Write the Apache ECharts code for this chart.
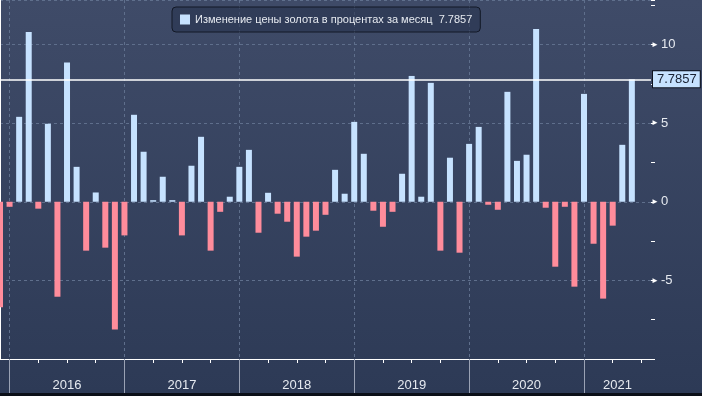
<!DOCTYPE html>
<html>
<head>
<meta charset="utf-8">
<script src="https://cdn.jsdelivr.net/npm/echarts@6/dist/echarts.min.js"></script>
<style>
  html, body { margin: 0; padding: 0; background: #0b0f18; }
  #chart { width: 702px; height: 393px; }
</style>
</head>
<body>
<div id="chart"></div>
<script>
// monthly gold price change, %, month-end bars from Nov 2015 to May 2021
const seriesName = 'Изменение цены золота в процентах за месяц'
const lastValue = 7.7857
const goldChange = [
  -6.71, -0.32,
  5.40, 10.80, -0.44, 4.96, -6.04, 8.85, 2.22, -3.11, 0.59, -2.92, -8.13, -2.14,
  5.53, 3.18, 0.10, 1.59, 0.10, -2.14, 2.29, 4.13, -3.11, -0.64, 0.32, 2.22,
  3.30, -1.97, 0.57, -0.76, -1.27, -3.49, -2.22, -1.84, -0.83, 2.03, 0.51, 5.08,
  3.05, -0.57, -1.59, -0.64, 1.78, 8.00, 0.32, 7.56, -3.11, 2.80, -3.24, 3.68,
  4.76, -0.19, -0.51, 6.99, 2.60, 2.99, 10.99, -0.38, -4.13, -0.32, -5.40, 6.86,
  -2.67, -6.16, -1.52, 3.62, 7.7857
]
const years = ['2016', '2017', '2018', '2019', '2020', '2021']
const yTickLabels = [10, 5, 0, -5]

// month categories Nov 2015 .. Jul 2021 (axis runs two months past the last bar)
const months = []
for (let y = 2015, m = 11; months.length < 69; m++) {
  if (m > 12) { m = 1; y++ }
  months.push(y + '-' + String(m).padStart(2, '0'))
}
const monthOf = (i) => Number(months[i].slice(5))

// year boundaries sit on the December bars, labels in the middle of each span
const yearBounds = months.map((_, i) => i).filter(i => monthOf(i) === 12)
const yearMid = yearBounds.map((b, k) => ((yearBounds[k + 1] ?? months.length - 1) + b) / 2)

const chart = echarts.init(document.getElementById('chart'))

chart.setOption({
  animation: false,
  backgroundColor: new echarts.graphic.LinearGradient(0, 0, 0, 1, [
    { offset: 0, color: '#3f4b68' },
    { offset: 1, color: '#2d3a56' }
  ]),
  textStyle: { fontFamily: 'Liberation Sans' },
  grid: { left: 0, right: 51, top: 0, bottom: 34 },
  legend: {
    left: 172,
    top: 7,
    data: [{ name: seriesName, itemStyle: { color: '#c6e2ff' } }],
    icon: 'rect',
    itemWidth: 10,
    itemHeight: 10,
    itemGap: 6,
    padding: [7, 8, 7, 8],
    backgroundColor: 'rgba(40,52,78,0.6)',
    borderColor: '#121826',
    borderWidth: 1,
    borderRadius: 4,
    formatter: (name) => name + '  ' + lastValue,
    textStyle: { color: '#e6eaf0', fontSize: 11 }
  },
  xAxis: [
    {
      type: 'category',
      data: months,
      boundaryGap: false,
      axisLine: { onZero: false, lineStyle: { color: '#ffffff', width: 1 } },
      axisTick: {
        interval: (i) => monthOf(i) % 3 === 0,
        length: 4,
        lineStyle: { color: '#ffffff' }
      },
      axisLabel: { show: false },
      splitLine: {
        show: true,
        interval: (i) => monthOf(i) === 12,
        lineStyle: { color: '#5f6f8c', type: [3, 3] }
      }
    },
    {
      type: 'value',
      min: 0,
      max: months.length - 1,
      position: 'bottom',
      axisLine: { show: false, onZero: false },
      axisTick: {
        show: true,
        customValues: yearBounds,
        length: 34,
        lineStyle: { color: '#9aa2b4' }
      },
      axisLabel: {
        customValues: yearMid,
        formatter: (v) => years[yearMid.indexOf(v)] ?? '',
        color: '#e6eaf0',
        fontSize: 13,
        margin: 20
      },
      splitLine: { show: false }
    }
  ],
  yAxis: [
    {
      type: 'value',
      position: 'right',
      min: -10,
      max: 12.83,
      interval: 5,
      axisLine: { show: true, lineStyle: { color: '#ffffff' } },
      axisTick: { show: false },
      axisLabel: {
        margin: 0,
        formatter: (v) => yTickLabels.includes(v) ? '{t|►}{v|' + v + '}' : '',
        rich: {
          t: { color: '#ffffff', fontSize: 8, padding: [0, 2, 0, 0] },
          v: { color: '#e6eaf0', fontSize: 13 }
        }
      },
      splitLine: { show: true, lineStyle: { color: '#5f6f8c', type: [3, 3] } }
    },
    {
      type: 'value',
      position: 'right',
      min: -10,
      max: 12.83,
      interval: 2.5,
      axisLine: { show: false },
      axisTick: { show: true, length: 4, lineStyle: { color: '#ffffff' } },
      axisLabel: { show: false },
      splitLine: { show: false }
    }
  ],
  series: [
    {
      name: seriesName,
      type: 'bar',
      xAxisIndex: 0,
      yAxisIndex: 0,
      barWidth: 6,
      data: goldChange,
      itemStyle: {
        color: (p) => p.value >= 0 ? '#c6e2ff' : '#ff8c9b'
      },
      markLine: {
        silent: true,
        symbol: 'none',
        lineStyle: { color: '#ffffff', type: 'solid', width: 1.5 },
        data: [{ yAxis: lastValue }],
        label: {
          position: 'end',
          distance: 2,
          formatter: String(lastValue),
          color: '#1a2233',
          fontSize: 13,
          backgroundColor: '#c6e2ff',
          borderColor: '#0e1320',
          borderWidth: 1,
          padding: [2, 3, 1, 4]
        }
      }
    }
  ]
})
</script>
</body>
</html>
